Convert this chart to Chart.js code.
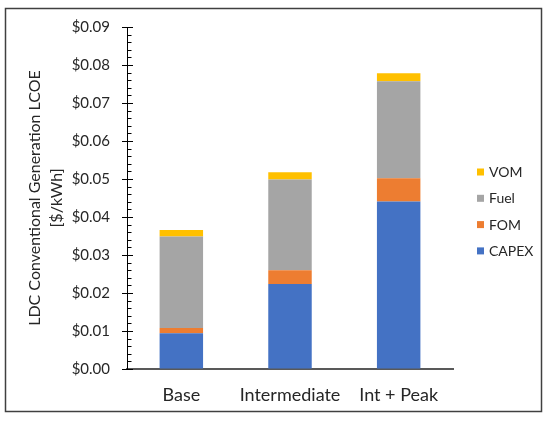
<!DOCTYPE html>
<html>
<head>
<meta charset="utf-8">
<script src="https://cdn.jsdelivr.net/npm/chart.js@4"></script>
<style>
html,body{margin:0;padding:0;background:#fff;}
#wrap{width:550px;height:422px;position:relative;}
</style>
</head>
<body>
<div id="wrap"><canvas id="c" width="550" height="422"></canvas></div>
<script>
const categories = ['Base', 'Intermediate', 'Int + Peak'];
const capex = [0.0094, 0.0224, 0.0441];
const fom   = [0.0014, 0.0036, 0.0061];
const fuel  = [0.0241, 0.0239, 0.0255];
const vom   = [0.0017, 0.0019, 0.0021];
const yTitle = ['LDC Conventional Generation LCOE', '[$/kWh]'];
const yMin = 0, yMax = 0.09, yStep = 0.01, yMinorStep = 0.002;

const FONT = 'Lato, "Open Sans", sans-serif';

const frame = {
  id: 'frame',
  beforeDraw(chart) {
    const ctx = chart.ctx;
    ctx.save();
    ctx.fillStyle = '#fff';
    ctx.fillRect(0, 0, chart.width, chart.height);
    ctx.strokeStyle = '#404040';
    ctx.lineWidth = 1.5;
    ctx.strokeRect(5.5, 8.5, 536, 403);
    ctx.restore();
  }
};

const yTicks = {
  id: 'yTicks',
  afterDraw(chart) {
    const s = chart.scales.y;
    const ctx = chart.ctx;
    const x = s.right;
    ctx.save();
    ctx.strokeStyle = '#000';
    ctx.lineWidth = 1;
    const n = Math.round((yMax - yMin) / yMinorStep);
    for (let i = 0; i <= n; i++) {
      const v = yMin + i * yMinorStep;
      const py = Math.round(s.getPixelForValue(v)) + 0.5;
      const major = i % Math.round(yStep / yMinorStep) === 0;
      ctx.beginPath();
      if (major) { ctx.moveTo(x - 5, py); ctx.lineTo(x + 6, py); }
      else { ctx.moveTo(x, py); ctx.lineTo(x + 4.5, py); }
      ctx.stroke();
    }
    ctx.restore();
  }
};

const legendPlugin = {
  id: 'customLegend',
  afterDraw(chart) {
    const ctx = chart.ctx;
    const ca = chart.chartArea;
    const ds = chart.data.datasets.slice().reverse();
    const x0 = ca.right + 24;
    const y0 = 172;
    const gap = 26.3;
    ctx.save();
    ctx.font = '14px ' + FONT;
    ctx.textBaseline = 'middle';
    ctx.textAlign = 'left';
    ds.forEach((d, i) => {
      const cy = y0 + i * gap;
      ctx.fillStyle = d.backgroundColor;
      ctx.fillRect(x0, cy - 3.5, 7, 7);
      ctx.fillStyle = '#262626';
      ctx.fillText(d.label, x0 + 12, cy + 0.5);
    });
    ctx.restore();
  }
};

new Chart(document.getElementById('c'), {
  type: 'bar',
  data: {
    labels: categories,
    datasets: [
      { label: 'CAPEX', data: capex, backgroundColor: '#4472C4' },
      { label: 'FOM', data: fom, backgroundColor: '#ED7D31' },
      { label: 'Fuel', data: fuel, backgroundColor: '#A5A5A5' },
      { label: 'VOM', data: vom, backgroundColor: '#FFC000' }
    ]
  },
  options: {
    responsive: false,
    animation: false,
    devicePixelRatio: 1,
    layout: { padding: { left: 0, top: 27, right: 97, bottom: 0 } },
    datasets: { bar: { categoryPercentage: 1, barPercentage: 0.4, borderWidth: 0 } },
    plugins: { legend: { display: false }, tooltip: { enabled: false } },
    scales: {
      x: {
        stacked: true,
        grid: { display: true, drawOnChartArea: false, drawTicks: false },
        border: { display: true, color: '#595959', width: 2 },
        ticks: { padding: 15, color: '#262626', font: { family: FONT, size: 18 } },
        afterFit(s) { s.height = 53; }
      },
      y: {
        stacked: true,
        min: yMin, max: yMax,
        grid: { display: true, drawOnChartArea: false, drawTicks: false },
        border: { display: true, color: '#000', width: 1 },
        ticks: {
          stepSize: yStep, padding: 17, color: '#262626',
          font: { family: FONT, size: 15 },
          callback: v => '$' + Number(v).toFixed(2)
        },
        title: {
          display: true, text: yTitle, color: '#262626',
          font: { family: FONT, size: 16, lineHeight: '22px' },
          padding: { top: 24, bottom: 0 }
        },
        afterFit(s) { s.width = 127; }
      }
    }
  },
  plugins: [frame, yTicks, legendPlugin]
});
</script>
</body>
</html>
